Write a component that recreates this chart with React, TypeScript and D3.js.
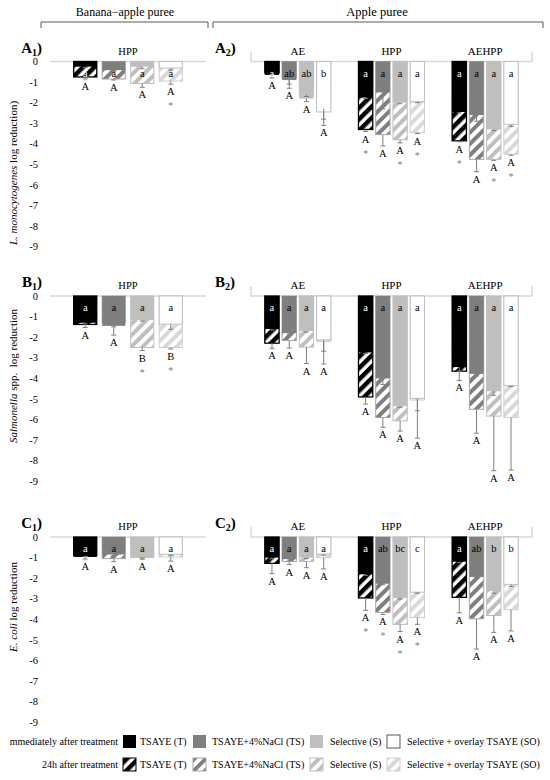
import React from "react";
import * as d3 from "d3";

// ---------- categories / labels ----------
const seriesKeys = ["T", "TS", "S", "SO"];
const seriesLabels = ["TSAYE (T)", "TSAYE+4%NaCl (TS)", "Selective (S)", "Selective + overlay TSAYE (SO)"];
const leftGroups = ["HPP"];
const rightGroups = ["AE", "HPP", "AEHPP"];
const yTicks = [0, -1, -2, -3, -4, -5, -6, -7, -8, -9];
const matrixTitles = ["Banana\u2212apple puree", "Apple puree"];
const legendRows = ["mmediately after treatment", "24h after treatment"];

// ---------- A: L. monocytogenes ----------
const A1_imm = [-0.25, -0.42, -0.25, -0.32];
const A1_immSd = [0.05, 0.05, 0.1, 0.1];
const A1_h24 = [-0.75, -0.85, -1.07, -0.95];
const A1_h24Sd = [0.1, 0.05, 0.18, 0.15];
const A1_lower = ["a", "a", "a", "a"];
const A1_upper = ["A", "A", "A", "A"];
const A1_star = [false, false, false, true];

const A2_imm = [-0.65, -0.9, -1.8, -2.45, -1.75, -1.5, -2.0, -1.95, -2.45, -2.6, -3.3, -3.05];
const A2_immSd = [0.15, 0.4, 0.15, 0.65, 0.05, 0.8, 0.05, 0.05, 0.05, 0.3, 0.05, 0.1];
const A2_h24 = [-0.55, -0.8, -1.6, -2.3, -3.3, -3.55, -3.8, -3.45, -3.85, -4.75, -4.75, -4.5];
const A2_h24Sd = [0.1, 0.3, 0.1, 0.5, 0.1, 0.55, 0.15, 0.05, 0.05, 0.6, 0.05, 0.05];
const A2_lower = ["a", "ab", "ab", "b", "a", "a", "a", "a", "a", "a", "a", "a"];
const A2_upper = ["A", "A", "A", "A", "A", "A", "A", "A", "A", "A", "A", "A"];
const A2_star = [false, false, false, false, true, false, true, true, true, false, true, true];

// ---------- B: Salmonella spp. ----------
const B1_imm = [-1.3, -1.45, -1.17, -1.37];
const B1_immSd = [0.05, 0.45, 0.05, 0.25];
const B1_h24 = [-1.38, -1.3, -2.5, -2.5];
const B1_h24Sd = [0.15, 0.2, 0.15, 0.07];
const B1_lower = ["a", "a", "a", "a"];
const B1_upper = ["A", "A", "B", "B"];
const B1_star = [false, false, true, true];

const B2_imm = [-1.6, -1.8, -1.7, -2.13, -2.74, -4.0, -5.35, -4.97, -3.45, -3.78, -4.62, -4.35];
const B2_immSd = [0.05, 0.05, 0.05, 0.55, 0.05, 0.3, 0.05, 0.6, 0.2, 0.1, 0.2, 0.05];
const B2_h24 = [-2.29, -2.16, -2.48, -2.2, -4.9, -5.9, -6.06, -5.05, -3.65, -5.5, -5.83, -5.9];
const B2_h24Sd = [0.25, 0.37, 0.8, 1.1, 0.35, 0.47, 0.5, 1.85, 0.45, 1.16, 2.65, 2.55];
const B2_lower = ["a", "a", "a", "a", "a", "a", "a", "a", "a", "a", "a", "a"];
const B2_upper = ["A", "A", "A", "A", "A", "A", "A", "A", "A", "A", "A", "A"];
const B2_star = [false, false, false, false, false, false, false, false, false, false, false, false];

// ---------- C: E. coli ----------
const C1_imm = [-0.97, -0.85, -0.97, -0.84];
const C1_immSd = [0.1, 0.05, 0.05, 0.05];
const C1_h24 = [-0.9, -1.05, -1.0, -0.97];
const C1_h24Sd = [0.05, 0.15, 0.08, 0.2];
const C1_lower = ["a", "a", "a", "a"];
const C1_upper = ["A", "A", "A", "A"];
const C1_star = [false, false, false, false];

const C2_imm = [-1.0, -1.07, -1.0, -0.83, -1.81, -2.27, -2.96, -2.68, -1.2, -1.94, -2.63, -2.3];
const C2_immSd = [0.05, 0.05, 0.05, 0.05, 0.05, 0.05, 0.05, 0.05, 0.05, 0.05, 0.1, 0.1];
const C2_h24 = [-1.28, -1.19, -1.19, -1.0, -2.96, -3.66, -4.24, -3.91, -2.93, -3.97, -3.81, -3.53];
const C2_h24Sd = [0.5, 0.15, 0.3, 0.55, 0.6, 0.1, 0.35, 0.33, 0.75, 1.47, 0.82, 1.03];
const C2_lower = ["a", "a", "a", "a", "a", "ab", "bc", "c", "a", "ab", "b", "b"];
const C2_upper = ["A", "A", "A", "A", "A", "A", "A", "A", "A", "A", "A", "A"];
const C2_star = [false, false, false, false, true, true, true, true, false, false, false, false];

// ---------- styles ----------
const FONT = "'Liberation Serif', 'Times New Roman', serif";
const solidFill = ["#000000", "#7f7f7f", "#bfbfbf", "#ffffff"];
const solidStroke = ["none", "none", "none", "#bfbfbf"];
const hatchStripe = ["#000000", "#7f7f7f", "#bfbfbf", "#d9d9d9"];
const hatchStroke = ["#000000", "#a6a6a6", "#bfbfbf", "#cfcfcf"];
const lowerColor = ["#ffffff", "#000000", "#000000", "#000000"];
const errColor = "#808080";

type PanelData = {
  imm: number[]; immSd: number[]; h24: number[]; h24Sd: number[];
  lower: string[]; upper: string[]; star: boolean[];
};

const rows = [
  {
    id: "A", zero: 61.5,
    title: [{ t: "L. monocytogenes", i: true }, { t: " log reduction)", i: false }], titleY: 173,
    left: { imm: A1_imm, immSd: A1_immSd, h24: A1_h24, h24Sd: A1_h24Sd, lower: A1_lower, upper: A1_upper, star: A1_star },
    right: { imm: A2_imm, immSd: A2_immSd, h24: A2_h24, h24Sd: A2_h24Sd, lower: A2_lower, upper: A2_upper, star: A2_star },
  },
  {
    id: "B", zero: 296,
    title: [{ t: "Salmonella", i: true }, { t: " spp.  log reduction", i: false }], titleY: 376,
    left: { imm: B1_imm, immSd: B1_immSd, h24: B1_h24, h24Sd: B1_h24Sd, lower: B1_lower, upper: B1_upper, star: B1_star },
    right: { imm: B2_imm, immSd: B2_immSd, h24: B2_h24, h24Sd: B2_h24Sd, lower: B2_lower, upper: B2_upper, star: B2_star },
  },
  {
    id: "C", zero: 537,
    title: [{ t: "E. coli", i: true }, { t: " log reduction", i: false }], titleY: 607,
    left: { imm: C1_imm, immSd: C1_immSd, h24: C1_h24, h24Sd: C1_h24Sd, lower: C1_lower, upper: C1_upper, star: C1_star },
    right: { imm: C2_imm, immSd: C2_immSd, h24: C2_h24, h24Sd: C2_h24Sd, lower: C2_lower, upper: C2_upper, star: C2_star },
  },
];

const UNIT = 20.6;

function Bars({ groups, range, padInner, padOuter, data, y, zero }: {
  groups: string[]; range: [number, number]; padInner: number; padOuter: number;
  data: PanelData; y: d3.ScaleLinear<number, number>; zero: number;
}) {
  const x0 = d3.scaleBand<string>().domain(groups).range(range).padding(0);
  const x1 = d3.scaleBand<string>().domain(seriesKeys).range([0, x0.bandwidth()])
    .paddingInner(padInner).paddingOuter(padOuter);
  const w = x1.bandwidth();
  const cap = Math.min(5, w * 0.35);
  const items: any[] = [];
  groups.forEach((g, gi) => {
    seriesKeys.forEach((s, si) => {
      const idx = gi * seriesKeys.length + si;
      const xl = (x0(g) ?? 0) + (x1(s) ?? 0);
      const cx = xl + w / 2;
      const imm = data.imm[idx], immSd = data.immSd[idx];
      const h24 = data.h24[idx], h24Sd = data.h24Sd[idx];
      const errEnd = Math.min(imm - immSd, h24 - h24Sd);
      const yA = y(errEnd) + 11;
      items.push(
        <g key={g + s}>
          <rect x={xl} y={y(0)} width={w} height={y(h24) - y(0)}
            fill={`url(#hatch${si})`} stroke={hatchStroke[si]} strokeWidth={si === 0 ? 1.3 : 1} />
          <rect x={xl} y={y(0)} width={w} height={y(imm) - y(0)}
            fill={solidFill[si]} stroke={solidStroke[si]} strokeWidth={1} />
          {[[h24, h24Sd], [imm, immSd]].map(([v, sd], k) => (
            <g key={k} stroke={errColor} strokeWidth={1}>
              <line x1={cx} x2={cx} y1={y(v)} y2={y(v - sd)} />
              <line x1={cx - cap / 2} x2={cx + cap / 2} y1={y(v - sd)} y2={y(v - sd)} />
            </g>
          ))}
          <text x={cx} y={zero + 15} textAnchor="middle" fontSize={10.5}
            fill={lowerColor[si]} fontFamily={FONT}>{data.lower[idx]}</text>
          <text x={cx} y={yA} textAnchor="middle" fontSize={10.5} fill="#000" fontFamily={FONT}>
            {data.upper[idx]}</text>
          {data.star[idx] && (
            <text x={cx} y={yA + 14} textAnchor="middle" fontSize={10} fill="#808080" fontFamily={FONT}>*</text>
          )}
        </g>
      );
    });
  });
  return <g>{items}</g>;
}

export default function App() {
  const legendX = [123, 193, 310, 387];
  const legendTextX = [140, 212, 330, 407];
  const legendY = [735, 758];
  return (
    <svg width={550} height={780} style={{ position: "absolute", left: 0, top: 0, background: "#fff" }}
      fontFamily={FONT}>
      <defs>
        {hatchStripe.map((c, i) => (
          <pattern key={i} id={`hatch${i}`} patternUnits="userSpaceOnUse" width={8} height={8}
            patternTransform="rotate(45)">
            <rect x={0} y={0} width={8} height={8} fill="#ffffff" />
            <rect x={0} y={0} width={i === 0 ? 4.5 : 4} height={8} fill={c} />
          </pattern>
        ))}
      </defs>
      <rect x={0} y={0} width={550} height={780} fill="#fff" />

      {/* top brackets */}
      <text x={125} y={16} textAnchor="middle" fontSize={12}>{matrixTitles[0]}</text>
      <path d="M41,28V22H208V28" fill="none" stroke="#595959" strokeWidth={1} />
      <text x={377} y={16} textAnchor="middle" fontSize={12.5}>{matrixTitles[1]}</text>
      <path d="M213,28V22H543V28" fill="none" stroke="#595959" strokeWidth={1} />

      {rows.map((r) => {
        const y = d3.scaleLinear().domain([0, -9]).range([r.zero, r.zero + 9 * UNIT]);
        const xr = d3.scaleBand<string>().domain(rightGroups).range([251, 532]);
        return (
          <g key={r.id}>
            {/* panel labels */}
            <text x={42} y={r.zero - 9} textAnchor="end" fontSize={15} fontWeight="bold">
              {r.id}<tspan fontSize={10} dy={3}>1</tspan><tspan dy={-3}>)</tspan>
            </text>
            <text x={215} y={r.zero - 9} textAnchor="start" fontSize={15} fontWeight="bold">
              {r.id}<tspan fontSize={10} dy={3}>2</tspan><tspan dy={-3}>)</tspan>
            </text>
            {/* axis title */}
            <text transform={`translate(17,${r.titleY}) rotate(-90)`} textAnchor="middle" fontSize={11}
              style={{ whiteSpace: "pre" }}>
              {r.title.map((p, k) => (
                <tspan key={k} fontStyle={p.i ? "italic" : "normal"}>{p.t}</tspan>
              ))}
            </text>
            {/* ticks */}
            {yTicks.map((t) => (
              <text key={t} x={38} y={y(t) + 3.5} textAnchor="end" fontSize={10.5}>{t}</text>
            ))}
            {/* zero lines */}
            <line x1={50} x2={206} y1={r.zero} y2={r.zero} stroke="#d9d9d9" strokeWidth={1.5} />
            <path d={`M251,${r.zero - 10}V${r.zero}H532V${r.zero - 10}`} fill="none" stroke="#d9d9d9" strokeWidth={1.5} />
            {/* group labels */}
            <text x={128} y={r.zero - 7} textAnchor="middle" fontSize={10.5}>{leftGroups[0]}</text>
            {rightGroups.map((g) => (
              <text key={g} x={(xr(g) ?? 0) + xr.bandwidth() / 2} y={r.zero - 7} textAnchor="middle" fontSize={11}>{g}</text>
            ))}
            <Bars groups={leftGroups} range={[50, 206]} padInner={0.19} padOuter={0.83}
              data={r.left} y={y} zero={r.zero} />
            <Bars groups={rightGroups} range={[251, 532]} padInner={0.17} padOuter={0.8}
              data={r.right} y={y} zero={r.zero} />
          </g>
        );
      })}

      {/* legend */}
      {legendRows.map((lab, ri) => (
        <g key={ri}>
          <text x={118} y={legendY[ri] + 10} textAnchor="end" fontSize={10}>{lab}</text>
          {seriesKeys.map((s, si) => (
            <g key={s}>
              <rect x={legendX[si]} y={legendY[ri]} width={13} height={13}
                fill={ri === 0 ? solidFill[si] : `url(#hatch${si})`}
                stroke={ri === 0 ? (si === 3 ? "#595959" : "none") : hatchStroke[si]}
                strokeWidth={1} />
              <text x={legendTextX[si]} y={legendY[ri] + 10} fontSize={10}>{seriesLabels[si]}</text>
            </g>
          ))}
        </g>
      ))}
    </svg>
  );
}
